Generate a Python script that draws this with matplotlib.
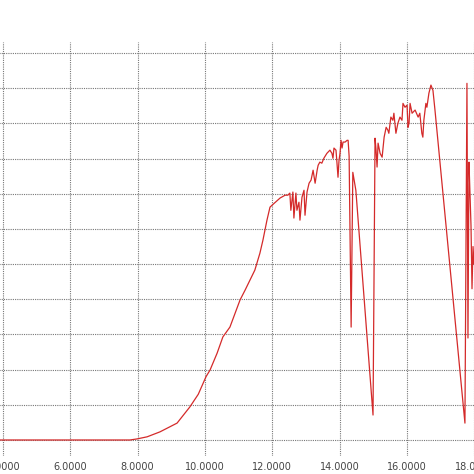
import matplotlib
matplotlib.use("Agg")
from matplotlib import pyplot as plt
from matplotlib.ticker import FormatStrFormatter

# values
x = [3.00, 7.77, 7.98, 8.28, 8.66, 9.17, 9.55, 9.80, 10.03, 10.15, 10.36, 10.53,
     10.74, 11.04, 11.19, 11.48, 11.63, 11.72, 11.84, 11.93, 12.02, 12.23, 12.38,
     12.46, 12.52, 12.55,
     12.61, 12.64, 12.70, 12.73, 12.79, 12.82, 12.88, 12.94, 12.97, 13.03, 13.09,
     13.15, 13.21, 13.27, 13.33, 13.36, 13.41, 13.47, 13.53, 13.62, 13.71, 13.77,
     13.80, 13.83, 13.89, 13.92, 13.95, 13.98, 14.01, 14.04, 14.07, 14.10, 14.16,
     14.22, 14.25, 14.28, 14.34, 14.39, 14.48, 14.99, 15.05, 15.08, 15.11, 15.14,
     15.20, 15.26, 15.32, 15.38, 15.43, 15.46, 15.52, 15.58, 15.61, 15.67, 15.73,
     15.79, 15.85, 15.88, 15.94, 16.00, 16.03, 16.06, 16.09, 16.15, 16.24, 16.33,
     16.38, 16.44, 16.47, 16.50, 16.56, 16.59, 16.65, 16.71, 16.77, 16.83, 17.72,
     17.78, 17.81, 17.84, 17.87, 17.90, 17.93, 17.96, 17.99, 18.05]
y = [0.00, 0.00, 0.03, 0.09, 0.23, 0.48, 0.94, 1.30, 1.80, 1.99, 2.47, 2.93,
     3.21, 3.98, 4.26, 4.83, 5.31, 5.68, 6.25, 6.62, 6.70, 6.88, 6.96,
     6.96, 7.02, 6.53,
     7.05, 6.31, 7.02, 6.53, 6.76, 6.25, 6.90, 7.10, 6.39, 7.05, 7.30,
     7.39, 7.67, 7.30, 7.67, 7.81, 7.90, 7.87, 8.01, 8.15, 8.24, 8.15,
     8.01, 8.30, 8.24, 7.87, 7.47, 7.95, 8.15, 8.52, 8.30, 8.47, 8.47,
     8.52, 8.52, 8.07, 3.21, 7.61, 7.10, 0.71, 8.58, 8.24, 7.76, 8.44,
     8.15, 8.04, 8.61, 8.89, 8.81, 8.72, 9.18, 9.09, 9.29, 8.72, 9.01,
     9.18, 9.09, 9.57, 9.46, 9.52, 8.89, 9.01, 9.57, 9.29, 9.38, 9.18,
     9.29, 8.72, 8.61, 9.09, 9.57, 9.46, 9.86, 10.09, 9.94, 9.38, 0.48,
     10.14, 2.90, 7.90, 7.00, 6.10, 4.30, 5.50, 5.00, 5.20]

x_ticks = [4, 6, 8, 10, 12, 14, 16, 18]
y_ticks = list(range(0, 12))


def main(outname='out.png'):
    fig = plt.figure(figsize=(4.74, 4.74), dpi=100)
    # axes runs past the figure edges, the reference is a crop
    ax = fig.add_axes([-0.0647, 0.038, 1.1365, 0.873])
    ax.plot(x, y, color='#d42a2a', lw=0.9)
    ax.set_xlim(3, 19)
    ax.set_ylim(-0.455, 11.31)
    ax.set_xticks(x_ticks)
    ax.set_yticks(y_ticks)
    ax.xaxis.set_major_formatter(FormatStrFormatter('%.4f'))
    ax.tick_params(axis='x', length=0, labelsize=7, colors='#444444', pad=4)
    ax.tick_params(axis='y', length=0, labelleft=False)
    ax.grid(True, color='#777777', lw=0.8, linestyle=(0, (1, 1)))
    ax.set_axisbelow(True)
    for s in ax.spines.values():
        s.set_visible(False)
    fig.savefig(outname, dpi=100)


if __name__ == '__main__':
    main()
